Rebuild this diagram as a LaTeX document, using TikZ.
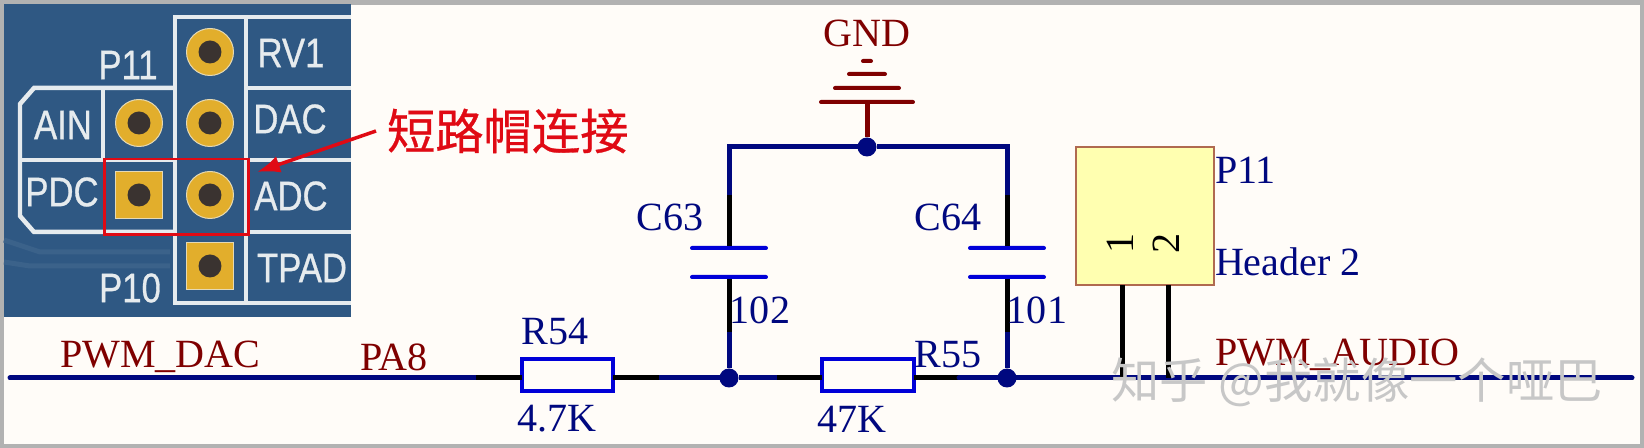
\documentclass[tikz,border=0pt]{standalone}
\usepackage{fontspec}
\setmainfont{Liberation Serif}
\newfontfamily\cjk[FakeBold=.6]{Noto Sans CJK SC}
\newfontfamily\thincjk{Noto Sans CJK SC}
\newfontfamily\silk[FakeStretch=.84,FakeBold=.7]{Liberation Sans}
\usetikzlibrary{positioning,arrows.meta}
\definecolor{paper}{HTML}{FFFCF8}
\definecolor{pcb}{HTML}{2F5883}
\definecolor{silkline}{HTML}{E6EBEE}
\definecolor{padgold}{HTML}{E2AE2C}
\definecolor{padhole}{HTML}{3A3330}
\definecolor{netblue}{HTML}{00087F}
\definecolor{partblue}{HTML}{0000D8}
\definecolor{netred}{HTML}{7F0000}
\definecolor{hdrfill}{HTML}{FFFFB0}
\definecolor{hdrline}{HTML}{B06A50}
\definecolor{markred}{HTML}{E00A14}
\tikzset{
  wire/.style={line width=.1cm, netblue},
  pin/.style={line width=.1cm, black},
  dot/.style={draw=none, circle, fill=netblue, minimum size=.38cm, inner sep=0pt},
  resbox/.style={draw=partblue, line width=.08cm, rectangle, minimum width=1.84cm, minimum height=.64cm, fill=paper},
  plate/.style={rectangle, rounded corners=.04cm, fill=partblue, minimum width=1.56cm, minimum height=.08cm, inner sep=0pt},
  gndbar/.style={rectangle, rounded corners=.04cm, fill=netred, minimum height=.08cm, inner sep=0pt},
  partlabel/.style={text=netblue, font=\fontsize{22.8}{24}\selectfont, inner sep=0pt},
  netlabel/.style={text=netred, font=\fontsize{22.8}{24}\selectfont, inner sep=0pt},
  pinlabel/.style={text=black, font=\fontsize{22.8}{24}\selectfont, rotate=90, inner sep=0pt},
  silktext/.style={text=silkline, font=\silk\fontsize{23.5}{25}\selectfont, inner sep=0pt},
  silkpath/.style={draw=silkline, line width=.09cm},
  roundpad/.style={circle, fill=padgold, draw=silkline!70!padgold, line width=.02cm, minimum size=.94cm, inner sep=0pt},
  squarepad/.style={rectangle, fill=padgold, draw=silkline!70!padgold, line width=.02cm, minimum size=.94cm, inner sep=0pt},
  hole/.style={circle, fill=padhole, minimum size=.46cm, inner sep=0pt}
}
\begin{document}
\begin{tikzpicture}[x=.02cm, y=-.02cm, outer sep=0pt]
    \useasboundingbox (0,0) rectangle (1644,448);
    \fill[black!30] (0,0) rectangle (1644,448);
    \fill[paper] (4,5) rectangle (1640,444);

    % board photo
    \fill[pcb] (4,4) rectangle (351,317);
    \draw[pcb!94!white, line width=.1cm] (4,240) -- (40,252) -- (170,252);
    \draw[pcb!94!white, line width=.1cm] (4,262) -- (30,266) -- (170,266);
    \draw[silkpath] (351,17) -- (175,17) -- (175,303) -- (351,303);
    \draw[silkpath] (246,17) -- (246,303);
    \draw[silkpath] (351,88) -- (246,88);
    \draw[silkpath] (351,160) -- (246,160);
    \draw[silkpath] (351,232) -- (246,232);
    \draw[silkpath] (175,88) -- (34,88) -- (20,104) -- (20,216) -- (34,232) -- (175,232);
    \draw[silkpath] (103,88) -- (103,160);
    \draw[silkpath] (20,160) -- (175,160);

    \foreach \n/\x/\y in {pa/210/52, pb/139/123, pc/210/123, pd/210/195} {
        \node[roundpad] (\n) at (\x,\y) {};
        \node[hole] at (\n) {};
    }
    \foreach \n/\x/\y in {pe/139/195, pf/210/266} {
        \node[squarepad] (\n) at (\x,\y) {};
        \node[hole] at (\n) {};
    }

    \node[silktext] (sp11) at (128,65) {P11};
    \node[silktext] (srv1) at (291,53) {RV1};
    \node[silktext] (sdac) at (290,119) {DAC};
    \node[silktext] (sain) at (63,125) {AIN};
    \node[silktext] (spdc) at (62,192) {PDC};
    \node[silktext] (sadc) at (291,196) {ADC};
    \node[silktext] (stpad) at (302,268) {TPAD};
    \node[silktext] (sp10) at (130,288) {P10};

    % jumper mark
    \node[draw=markred, rectangle, line width=.06cm, minimum width=2.9cm, minimum height=1.52cm] (jumper) at (176.5,197) {};
    \node[text=markred, font=\cjk\fontsize{27.5}{29}\selectfont, inner sep=0pt, anchor=west] (capnote) at (387,131) {短路帽连接};
    \coordinate (captip) at (257,172);
    \draw[-{Latex[length=.46cm,width=.34cm]}, draw=markred, fill=markred, line width=.07cm] ([xshift=-.22cm]capnote.west) -- (captip);

    % ground
    \node[netlabel] (gnd) at (867,33) {GND};
    \node[gndbar, minimum width=.24cm] (gnda) at (867,61) {};
    \node[gndbar, minimum width=.8cm] (gndb) at (867,74) {};
    \node[gndbar, minimum width=1.36cm] (gndc) at (867,88) {};
    \node[gndbar, minimum width=1.92cm] (gndd) at (867,102) {};
    \node[dot] (jtop) at (867,147) {};
    \draw[line width=.1cm, netred] (gndd) -- (jtop);

    % main net
    \node[dot] (jleft) at (729,378) {};
    \node[dot] (jright) at (1007,378) {};
    \node[resbox] (r54) at (567.5,375.5) {};
    \node[resbox] (r55) at (868,375.5) {};
    \coordinate (netl) at (10,378);
    \coordinate (netr) at (1632,378);
    \coordinate (r54in) at (476,378);
    \coordinate (r54out) at (659,378);
    \coordinate (r55in) at (777,378);
    \coordinate (r55out) at (959,378);
    \draw[wire, line cap=round] (netl) -- (r54in);
    \draw[pin] (r54in) -- (r54.west |- r54in);
    \draw[pin] (r54.east |- r54out) -- (r54out);
    \draw[wire] (r54out) -- (jleft) -- (r55in);
    \draw[pin] (r55in) -- (r55.west |- r55in);
    \draw[pin] (r55.east |- r55out) -- (r55out);
    \draw[wire, line cap=round] (r55out) -- (jright) -- (netr);

    % capacitors
    \foreach \n/\x/\j in {c63/729/jleft, c64/1007/jright} {
        \node[plate] (\n a) at (\x,248) {};
        \node[plate] (\n b) at (\x,277) {};
        \coordinate (\n t) at (\x,147);
        \coordinate (\n u) at (\x,195);
        \coordinate (\n d) at (\x,332);
        \draw[wire] (\n u) -- (\n t) -- (jtop);
        \draw[pin] (\n u) -- (\n a);
        \draw[pin] (\n b) -- (\n d);
        \draw[wire] (\n d) -- (\j);
    }
    \node[partlabel] (c63) at (670,217) {C63};
    \node[partlabel] (c64) at (948,217) {C64};
    \node[partlabel] (v102) at (760,310) {102};
    \node[partlabel] (v101) at (1037,310) {101};

    \node[partlabel] (r54n) at (555,332) {R54};
    \node[partlabel] (r54v) at (557,419) {4.7K};
    \node[partlabel] (r55n) at (948,355) {R55};
    \node[partlabel] (r55v) at (852,419) {47K};
    \node[netlabel, anchor=west] (pwmdac) at (60,357) {PWM\_DAC};
    \node[netlabel, anchor=west] (pa8) at (360,357) {PA8};

    % header
    \node[draw=hdrline, line width=.04cm, fill=hdrfill, rectangle, minimum width=2.76cm, minimum height=2.76cm] (hdr) at (1145,216) {};
    \coordinate (tapa) at (1122,378);
    \coordinate (tapb) at (1168,378);
    \draw[pin] (hdr.south -| tapa) -- (tapa);
    \draw[pin] (hdr.south -| tapb) -- (tapb);
    \node[pinlabel] (pin1) at (1120,243) {1};
    \node[pinlabel] (pin2) at (1166,243) {2};
    \node[partlabel, anchor=west] (hdrn) at (1215,170) {P11};
    \node[partlabel, anchor=west] (hdrv) at (1215,262) {Header 2};
    \node[netlabel, anchor=west] (pwmaudio) at (1215,355) {PWM\_AUDIO};

    % watermark
    \node[text=black!22, font=\thincjk\fontsize{27.5}{29}\selectfont, inner sep=0pt] (mark) at (1357,382) {知乎 @我就像一个哑巴};
\end{tikzpicture}
\end{document}
